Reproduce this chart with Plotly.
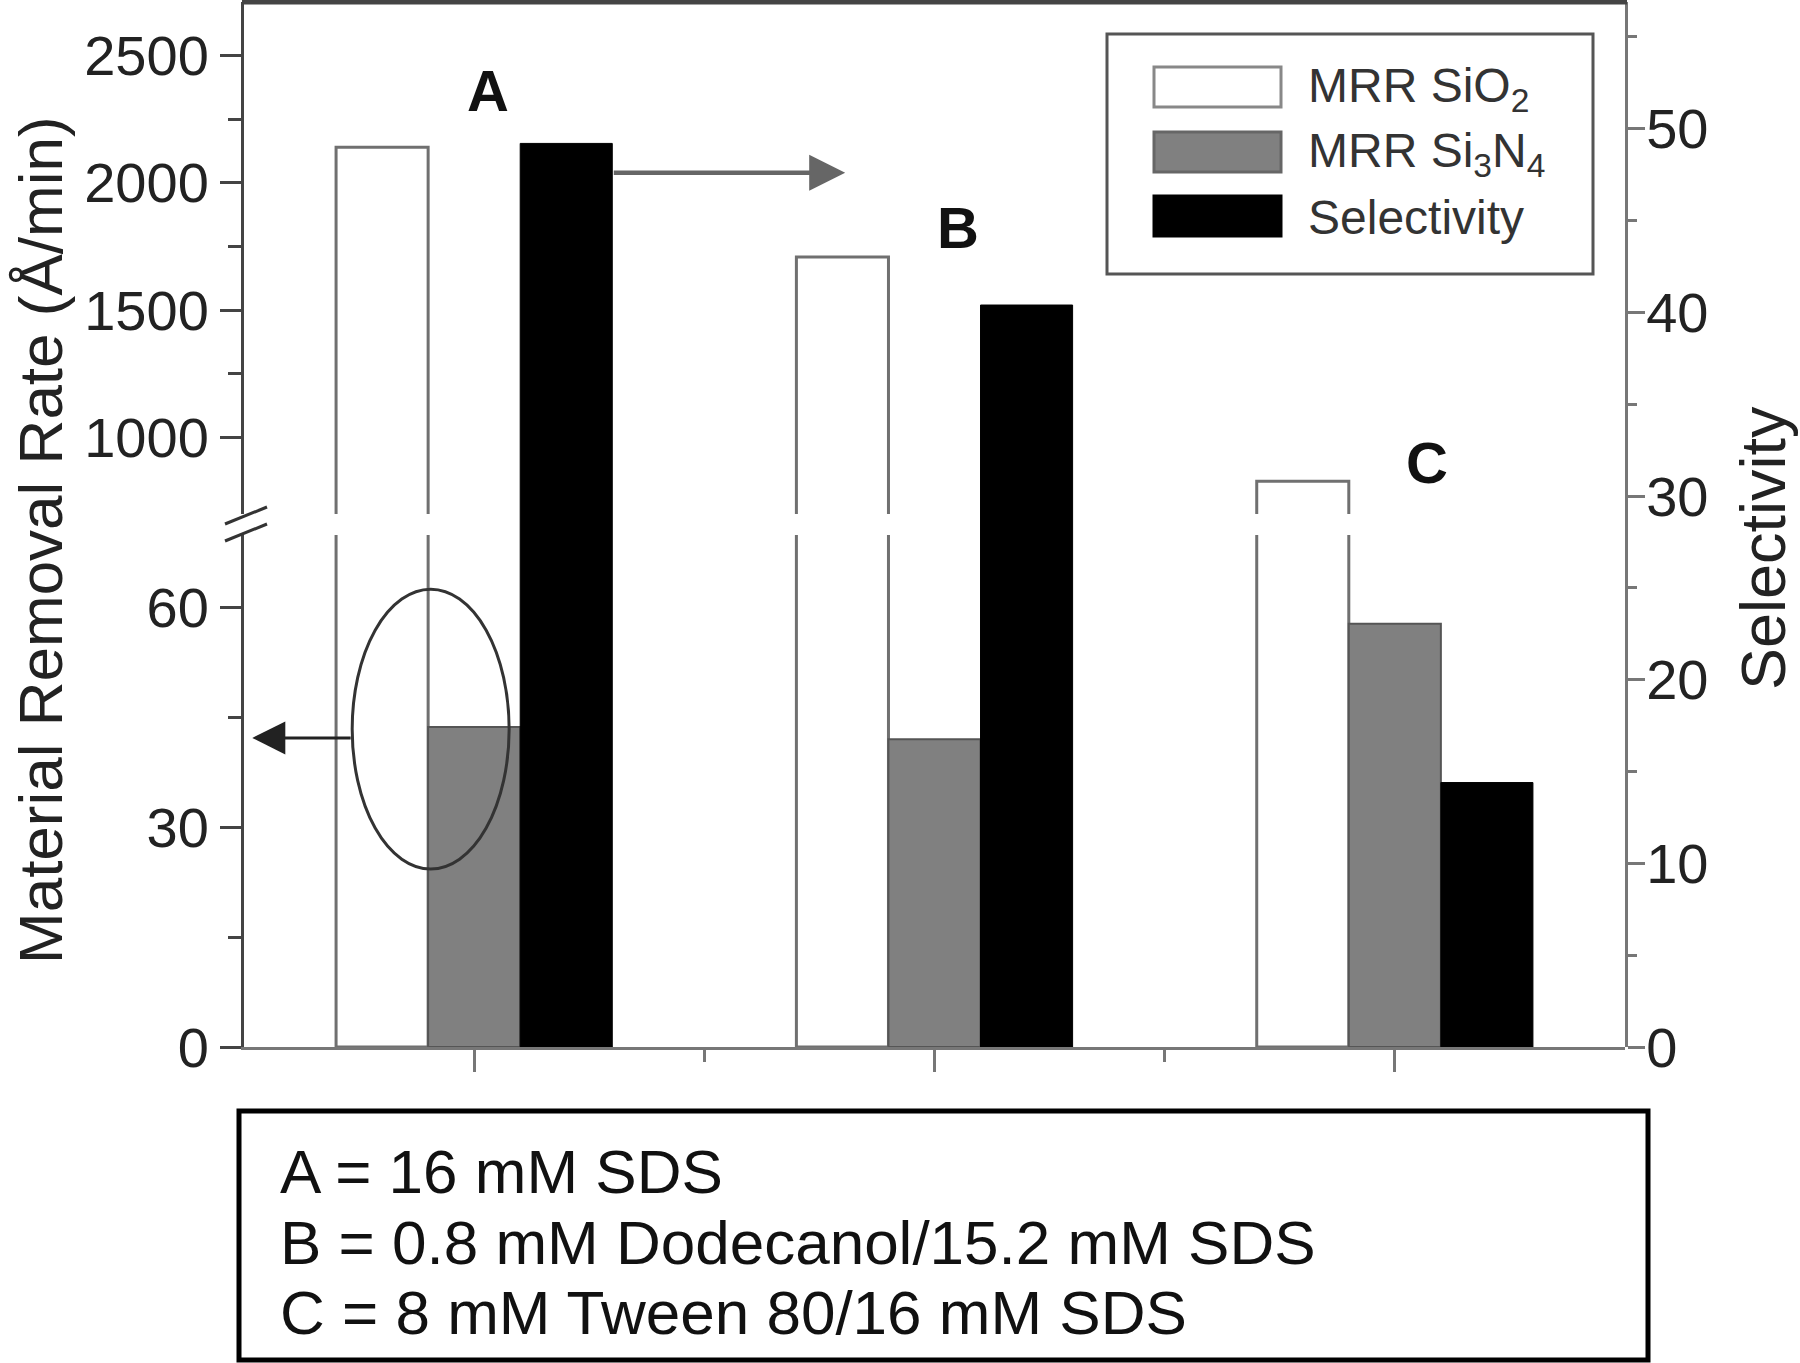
import plotly.graph_objects as go

# ---------------- data ----------------
categories = ["A", "B", "C"]
mrr_sio2 = [2140, 1709, 829]          # Å/min (upper, broken axis)
mrr_si3n4 = [43.7, 42.0, 57.8]        # Å/min (lower axis)
selectivity = [49.2, 40.4, 14.4]      # right axis
legend_names = ["MRR SiO<sub>2</sub>", "MRR Si<sub>3</sub>N<sub>4</sub>", "Selectivity"]
conditions = ["A = 16 mM SDS",
              "B = 0.8 mM Dodecanol/15.2 mM SDS",
              "C = 8 mM Tween 80/16 mM SDS"]
lower_ticks = [0, 30, 60]
lower_minor = [15, 45]
upper_ticks = [1000, 1500, 2000, 2500]
upper_minor = [1250, 1750, 2250]
right_ticks = [0, 10, 20, 30, 40, 50]
right_minor = [5, 15, 25, 35, 45, 55]

# ---------------- helpers ----------------
W, H = 1800, 1363
def px(x):
    return x / W
def py(y):
    return 1 - y / H

FONT = "Liberation Sans, Arial, Helvetica, sans-serif"
xpos = list(range(len(categories)))
BAR_W = 0.2

fig = go.Figure()

white_style = dict(color="white", line=dict(color="#707070", width=3))
fig.add_trace(go.Bar(x=xpos, y=mrr_sio2, width=BAR_W, offset=-0.3, xaxis="x", yaxis="y",
                     marker=white_style, name="MRR SiO2", showlegend=False, hoverinfo="skip"))
fig.add_trace(go.Bar(x=xpos, y=mrr_sio2, width=BAR_W, offset=-0.3, xaxis="x", yaxis="y2",
                     marker=white_style, name="MRR SiO2", showlegend=False))
fig.add_trace(go.Bar(x=xpos, y=mrr_si3n4, width=BAR_W, offset=-0.1, xaxis="x", yaxis="y",
                     marker=dict(color="#808080", line=dict(color="#555555", width=2)),
                     name="MRR Si3N4", showlegend=False))
fig.add_trace(go.Bar(x=xpos, y=selectivity, width=BAR_W, offset=0.1, xaxis="x", yaxis="y3",
                     marker=dict(color="black", line=dict(color="black", width=1)),
                     name="Selectivity", showlegend=False))

tickfont = dict(family=FONT, size=56, color="#222222")
x_dom = [px(244), px(1625)]

common_y = dict(showgrid=False, zeroline=False, automargin=False, ticks="outside",
                tickwidth=3, ticklen=21, tickfont=tickfont, showline=True, linewidth=3)

fig.update_layout(
    width=W, height=H, template="none", showlegend=False,
    margin=dict(l=0, r=0, t=0, b=0),
    paper_bgcolor="white", plot_bgcolor="rgba(0,0,0,0)",
    barmode="overlay",
    xaxis=dict(domain=x_dom, range=[-0.5, 2.5], anchor="y", tickvals=xpos,
               showticklabels=False, ticks="outside", ticklen=22, tickwidth=3,
               tickcolor="#777777", showline=True, linecolor="#777777", linewidth=3,
               showgrid=False, zeroline=False, automargin=False,
               minor=dict(tickvals=[0.5, 1.5], ticks="outside", ticklen=12,
                          tickwidth=3, tickcolor="#777777", showgrid=False)),
    yaxis=dict(domain=[py(1047), py(535)], range=[0, 69.9], anchor="x", side="left",
               tickvals=lower_ticks, tickcolor="#444444", linecolor="#444444",
               minor=dict(tickvals=lower_minor, ticks="outside", ticklen=13, tickwidth=3,
                          tickcolor="#444444", showgrid=False),
               **common_y),
    yaxis2=dict(domain=[py(514), py(2)], range=[700, 2710], anchor="x", side="left",
                tickvals=upper_ticks, tickcolor="#444444", linecolor="#444444",
                minor=dict(tickvals=upper_minor, ticks="outside", ticklen=13, tickwidth=3,
                           tickcolor="#444444", showgrid=False),
                **common_y),
    yaxis3=dict(domain=[py(1047), py(2)], range=[0, 56.9], anchor="x", side="right",
                tickvals=right_ticks, tickcolor="#777777", linecolor="#777777",
                ticklabelstandoff=-10,
                minor=dict(tickvals=right_minor, ticks="outside", ticklen=9, tickwidth=3,
                           tickcolor="#777777", showgrid=False),
                **{**common_y, "ticklen": 17}),
)

shapes = []
# top frame line
shapes.append(dict(type="line", xref="paper", yref="paper", x0=px(242), x1=px(1627),
                   y0=py(2), y1=py(2), line=dict(color="#444444", width=5)))
# axis break marks
for y_off in (0, 17):
    shapes.append(dict(type="line", xref="paper", yref="paper",
                       x0=px(225), y0=py(524 + y_off), x1=px(267), y1=py(507 + y_off),
                       line=dict(color="#333333", width=3)))
# ellipse highlighting Si3N4 of A
shapes.append(dict(type="circle", xref="x", yref="y", x0=-0.265, x1=0.076, y0=24.3, y1=62.5,
                   line=dict(color="#333333", width=3)))

# custom legend
shapes.append(dict(type="rect", xref="paper", yref="paper", x0=px(1107), x1=px(1593),
                   y0=py(274), y1=py(34), line=dict(color="#555555", width=3),
                   fillcolor="rgba(0,0,0,0)"))
sw_styles = [("white", "#888888"), ("#808080", "#666666"), ("black", "black")]
row_y = [87, 152, 216]
for (fc, lc), yc in zip(sw_styles, row_y):
    shapes.append(dict(type="rect", xref="paper", yref="paper", x0=px(1154), x1=px(1281),
                       y0=py(yc + 20), y1=py(yc - 20), fillcolor=fc,
                       line=dict(color=lc, width=3)))

# bottom description box
shapes.append(dict(type="rect", xref="paper", yref="paper", x0=px(239), x1=px(1648),
                   y0=py(1360), y1=py(1111), line=dict(color="black", width=5),
                   fillcolor="rgba(0,0,0,0)"))

annotations = []
# legend texts
for name, yc in zip(legend_names, row_y):
    annotations.append(dict(xref="paper", yref="paper", x=px(1306), y=py(yc + 2), text=name,
                            showarrow=False, xanchor="left", yanchor="middle",
                            font=dict(family=FONT, size=48, color="#333333")))
# condition texts
for txt, yc in zip(conditions, [1171, 1242, 1312]):
    annotations.append(dict(xref="paper", yref="paper", x=px(278), y=py(yc), text=txt,
                            showarrow=False, xanchor="left", yanchor="middle",
                            font=dict(family=FONT, size=62, color="#111111")))
# group letters
letter_dx = [0.03, 0.05, 0.07]
letter_y = [52.1, 44.6, 31.8]
for i, (lab, dx, ly) in enumerate(zip(categories, letter_dx, letter_y)):
    annotations.append(dict(xref="x", yref="y3", x=xpos[i] + dx, y=ly, text="<b>%s</b>" % lab,
                            showarrow=False, xanchor="center", yanchor="middle",
                            font=dict(family=FONT, size=58, color="#111111")))
# arrows
annotations.append(dict(xref="x", yref="y", x=-0.482, y=42.2, ax=-0.265, ay=42.2,
                        axref="x", ayref="y", text="", showarrow=True, arrowhead=2,
                        arrowsize=2.2, arrowwidth=3, arrowcolor="#222222"))
annotations.append(dict(xref="x", yref="y3", x=0.806, y=47.6, ax=xpos[0] + 0.3, ay=47.6,
                        axref="x", ayref="y3", text="", showarrow=True, arrowhead=2,
                        arrowsize=1.6, arrowwidth=4.5, arrowcolor="#666666"))
# axis titles
annotations.append(dict(xref="paper", yref="paper", x=px(40), y=py(540),
                        text="Material Removal Rate (Å/min)", textangle=-90, showarrow=False,
                        xanchor="center", yanchor="middle",
                        font=dict(family=FONT, size=62, color="#222222")))
annotations.append(dict(xref="paper", yref="paper", x=px(1763), y=py(548),
                        text="Selectivity", textangle=-90, showarrow=False,
                        xanchor="center", yanchor="middle",
                        font=dict(family=FONT, size=63, color="#222222")))

fig.update_layout(shapes=shapes, annotations=annotations)
fig.write_html("out.html")
